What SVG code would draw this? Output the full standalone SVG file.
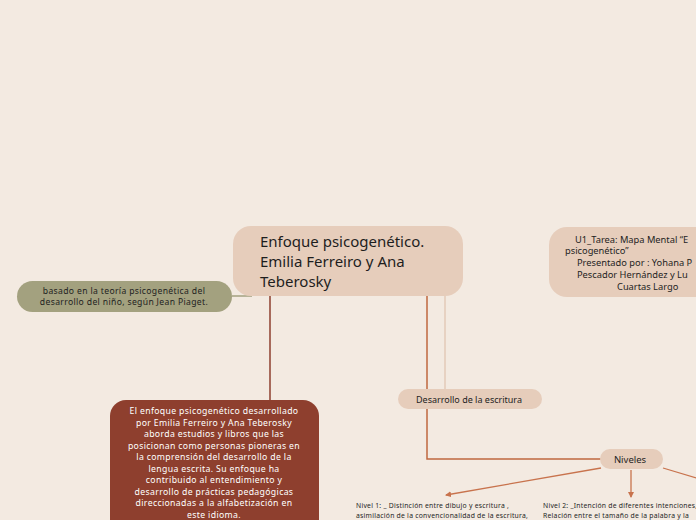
<svg xmlns="http://www.w3.org/2000/svg" width="696" height="520" viewBox="0 0 696 520">
<defs>
<style>
text{font-family:"Noto Sans","Open Sans","DejaVu Sans",sans-serif;}
.t{fill:#1e1e1e}
.w{fill:#ffffff}
.c{text-anchor:middle}
.n{fill:#E6CDBB}
.s{letter-spacing:0.35px}
</style>
<marker id="ah" markerWidth="6" markerHeight="6" refX="5" refY="3" orient="auto" markerUnits="userSpaceOnUse">
<path d="M0,0 L6,3 L0,6 z" fill="#C8734D"/>
</marker>
</defs>
<rect width="696" height="520" fill="#F3EAE1"/>
<g id="connectors" fill="none">
<line x1="232" y1="296" x2="252" y2="296" stroke="#A3A17F" stroke-width="1.5"/>
<line x1="270" y1="296" x2="270" y2="401" stroke="#8E3F2E" stroke-width="1.5"/>
<polyline points="427,296 427,459 601,459" stroke="#C0683F" stroke-width="1.5"/>
<line x1="445" y1="296" x2="445" y2="389" stroke="#E3CAB7" stroke-width="1.5"/>
<line x1="601" y1="468" x2="446" y2="495" stroke="#C8734D" stroke-width="1.3" marker-end="url(#ah)"/>
<line x1="631" y1="470" x2="631" y2="497" stroke="#C8734D" stroke-width="1.3" marker-end="url(#ah)"/>
<line x1="663" y1="468" x2="700" y2="479" stroke="#C8734D" stroke-width="1.3"/>
</g>
<g id="main">
<rect x="233" y="226" width="230" height="70" rx="18" class="n"/>
<text class="t" font-size="15" x="260" y="247">Enfoque psicogenético.</text>
<text class="t" font-size="15" x="260" y="267">Emilia Ferreiro y Ana</text>
<text class="t" font-size="15" x="260" y="287">Teberosky</text>
</g>
<g id="tarea">
<rect x="549" y="227" width="170" height="70" rx="18" class="n"/>
<text class="t" font-size="9.3" x="575" y="243">U1_Tarea: Mapa Mental “E</text>
<text class="t" font-size="9.3" x="565" y="254">psicogenético”</text>
<text class="t" font-size="9.3" x="577" y="266">Presentado por : Yohana P</text>
<text class="t" font-size="9.3" x="577" y="278">Pescador Hernández  y Lu</text>
<text class="t" font-size="9.3" x="617" y="290">Cuartas Largo</text>
</g>
<g id="piaget">
<rect x="17" y="281" width="215" height="31" rx="15.5" fill="#A3A17F"/>
<text class="t c s" font-size="8.6" x="124" y="294">basado en la teoría psicogenética  del</text>
<text class="t c s" font-size="8.6" x="124" y="305">desarrollo del niño, según Jean Piaget.</text>
</g>
<g id="enfoque">
<rect x="110" y="400" width="209" height="140" rx="16" fill="#8E3F2E"/>
<g class="w c s" font-size="8.7">
<text x="214" y="414">El enfoque psicogenético desarrollado</text>
<text x="214" y="425.5">por Emilia Ferreiro y Ana Teberosky</text>
<text x="214" y="437">aborda estudios y libros que las</text>
<text x="214" y="448.5">posicionan como personas pioneras en</text>
<text x="214" y="460">la comprensión  del desarrollo de la</text>
<text x="214" y="471.5">lengua escrita.  Su enfoque ha</text>
<text x="214" y="483">contribuido  al entendimiento  y</text>
<text x="214" y="494.5">desarrollo de prácticas pedagógicas</text>
<text x="214" y="506">direccionadas a la alfabetización en</text>
<text x="214" y="517.5">este idioma.</text>
</g>
</g>
<g id="desarrollo">
<rect x="398" y="389" width="144" height="20" rx="10" class="n"/>
<text class="t c" font-size="9" x="469" y="402.5">Desarrollo de la escritura</text>
</g>
<g id="niveles">
<rect x="600" y="449" width="63" height="20" rx="10" class="n"/>
<text class="t c" font-size="9.5" x="630" y="462.5">Niveles</text>
</g>
<g id="nivel1">
<text class="t" font-size="6.8" x="356" y="508" style="letter-spacing:0.25px">Nivel 1:    _ Distinción entre dibujo y escritura ,</text>
<text class="t" font-size="6.8" x="356" y="518" style="letter-spacing:0.25px">asimilación de  la convencionalidad de la escritura,</text>
</g>
<g id="nivel2">
<text class="t" font-size="6.8" x="543" y="508" style="letter-spacing:0.25px">Nivel 2: _Intención de diferentes intenciones,</text>
<text class="t" font-size="6.8" x="543" y="518" style="letter-spacing:0.25px">Relación entre el tamaño de la palabra y la</text>
</g>
</svg>
